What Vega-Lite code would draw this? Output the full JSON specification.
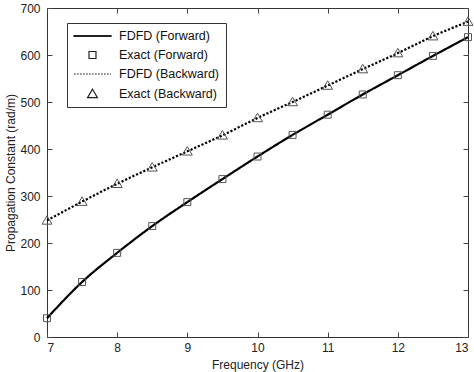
{
  "$schema": "https://vega.github.io/schema/vega-lite/v6.json",
  "width": 421,
  "height": 329,
  "autosize": {"type": "none"},
  "padding": {"left": 47, "top": 8, "right": 6, "bottom": 35},
  "background": "white",
  "config": {
    "font": "Liberation Sans",
    "view": {"stroke": "#333", "strokeWidth": 1},
    "axis": {
      "grid": false,
      "domain": false,
      "tickSize": -5,
      "tickColor": "#444",
      "labelFontSize": 12,
      "labelColor": "#222",
      "titleFontSize": 12,
      "titleFontWeight": "normal",
      "titleColor": "#222"
    }
  },
  "data": {
    "values": [
      {"f": 7, "beta": 40, "series": "FDFD (Forward)"},
      {"f": 7.5, "beta": 117, "series": "FDFD (Forward)"},
      {"f": 8, "beta": 179, "series": "FDFD (Forward)"},
      {"f": 8.5, "beta": 236, "series": "FDFD (Forward)"},
      {"f": 9, "beta": 287, "series": "FDFD (Forward)"},
      {"f": 9.5, "beta": 336, "series": "FDFD (Forward)"},
      {"f": 10, "beta": 384, "series": "FDFD (Forward)"},
      {"f": 10.5, "beta": 430, "series": "FDFD (Forward)"},
      {"f": 11, "beta": 473, "series": "FDFD (Forward)"},
      {"f": 11.5, "beta": 516, "series": "FDFD (Forward)"},
      {"f": 12, "beta": 557, "series": "FDFD (Forward)"},
      {"f": 12.5, "beta": 598, "series": "FDFD (Forward)"},
      {"f": 13, "beta": 638, "series": "FDFD (Forward)"},
      {"f": 7, "beta": 40, "series": "Exact (Forward)"},
      {"f": 7.5, "beta": 117, "series": "Exact (Forward)"},
      {"f": 8, "beta": 179, "series": "Exact (Forward)"},
      {"f": 8.5, "beta": 236, "series": "Exact (Forward)"},
      {"f": 9, "beta": 287, "series": "Exact (Forward)"},
      {"f": 9.5, "beta": 336, "series": "Exact (Forward)"},
      {"f": 10, "beta": 384, "series": "Exact (Forward)"},
      {"f": 10.5, "beta": 430, "series": "Exact (Forward)"},
      {"f": 11, "beta": 473, "series": "Exact (Forward)"},
      {"f": 11.5, "beta": 516, "series": "Exact (Forward)"},
      {"f": 12, "beta": 557, "series": "Exact (Forward)"},
      {"f": 12.5, "beta": 598, "series": "Exact (Forward)"},
      {"f": 13, "beta": 638, "series": "Exact (Forward)"},
      {"f": 7, "beta": 248, "series": "FDFD (Backward)"},
      {"f": 7.5, "beta": 288, "series": "FDFD (Backward)"},
      {"f": 8, "beta": 326, "series": "FDFD (Backward)"},
      {"f": 8.5, "beta": 361, "series": "FDFD (Backward)"},
      {"f": 9, "beta": 395, "series": "FDFD (Backward)"},
      {"f": 9.5, "beta": 429, "series": "FDFD (Backward)"},
      {"f": 10, "beta": 466, "series": "FDFD (Backward)"},
      {"f": 10.5, "beta": 500, "series": "FDFD (Backward)"},
      {"f": 11, "beta": 535, "series": "FDFD (Backward)"},
      {"f": 11.5, "beta": 570, "series": "FDFD (Backward)"},
      {"f": 12, "beta": 604, "series": "FDFD (Backward)"},
      {"f": 12.5, "beta": 640, "series": "FDFD (Backward)"},
      {"f": 13, "beta": 671, "series": "FDFD (Backward)"},
      {"f": 7, "beta": 248, "series": "Exact (Backward)"},
      {"f": 7.5, "beta": 288, "series": "Exact (Backward)"},
      {"f": 8, "beta": 326, "series": "Exact (Backward)"},
      {"f": 8.5, "beta": 361, "series": "Exact (Backward)"},
      {"f": 9, "beta": 395, "series": "Exact (Backward)"},
      {"f": 9.5, "beta": 429, "series": "Exact (Backward)"},
      {"f": 10, "beta": 466, "series": "Exact (Backward)"},
      {"f": 10.5, "beta": 500, "series": "Exact (Backward)"},
      {"f": 11, "beta": 535, "series": "Exact (Backward)"},
      {"f": 11.5, "beta": 570, "series": "Exact (Backward)"},
      {"f": 12, "beta": 604, "series": "Exact (Backward)"},
      {"f": 12.5, "beta": 640, "series": "Exact (Backward)"},
      {"f": 13, "beta": 671, "series": "Exact (Backward)"}
    ]
  },
  "layer": [
    {
      "transform": [{"filter": "indexof(datum.series, 'FDFD') == 0"}],
      "mark": {"type": "line", "interpolate": "monotone", "color": "black", "strokeWidth": 2.2, "strokeCap": "butt"},
      "encoding": {
        "x": {"field": "f", "type": "quantitative", "scale": {"domain": [7, 13], "nice": false},
          "axis": {"orient": "bottom", "title": "Frequency (GHz)", "values": [7, 8, 9, 10, 11, 12, 13], "labelPadding": 10, "titlePadding": 6}},
        "y": {"field": "beta", "type": "quantitative", "scale": {"domain": [0, 700], "nice": false},
          "axis": {"orient": "left", "title": "Propagation Constant (rad/m)", "values": [0, 100, 200, 300, 400, 500, 600, 700], "labelPadding": 12, "titlePadding": 2}},
        "strokeDash": {"field": "series", "type": "nominal",
          "scale": {"type": "ordinal", "domain": ["FDFD (Forward)", "FDFD (Backward)"], "range": [[1, 0], [2.2, 1.8]]},
          "legend": null}
      }
    },
    {
      "transform": [{"filter": "indexof(datum.series, 'Exact') == 0"}],
      "mark": {"type": "point", "filled": false, "color": "#555", "opacity": 1, "strokeWidth": 1, "size": 144},
      "encoding": {
        "x": {"field": "f", "type": "quantitative",
          "axis": {"orient": "top", "title": null, "labels": false, "values": [7, 8, 9, 10, 11, 12, 13]}},
        "y": {"field": "beta", "type": "quantitative",
          "axis": {"orient": "right", "title": null, "labels": false, "values": [0, 100, 200, 300, 400, 500, 600, 700]}},
        "shape": {"field": "series", "type": "nominal",
          "scale": {"type": "ordinal",
            "domain": ["FDFD (Forward)", "Exact (Forward)", "FDFD (Backward)", "Exact (Backward)"],
            "range": [
              "M-3.08,-0.07H3.08V0.07H-3.08Z",
              "M-0.58,-0.58H0.58V0.58H-0.58Z",
              "M-3.08,0h0.28M-2.58,0h0.28M-2.08,0h0.28M-1.58,0h0.28M-1.08,0h0.28M-0.58,0h0.28M-0.08,0h0.28M0.42,0h0.28M0.92,0h0.28M1.42,0h0.28M1.92,0h0.28M2.42,0h0.28M2.92,0h0.16",
              "M0,-0.8L0.83,0.62L-0.83,0.62Z"
            ]},
          "legend": {
            "title": null, "orient": "none", "legendX": 20, "legendY": 15,
            "strokeColor": "#333", "fillColor": "white", "padding": 6,
            "labelFontSize": 12.5, "labelColor": "#111", "labelOffset": 19.5,
            "symbolOffset": 12.5,
            "rowPadding": 5, "symbolFillColor": "transparent", "symbolStrokeColor": "#222",
            "symbolStrokeWidth": 1.2, "symbolSize": 144
          }}
      }
    }
  ],
  "resolve": {"axis": {"x": "independent", "y": "independent"}}
}
